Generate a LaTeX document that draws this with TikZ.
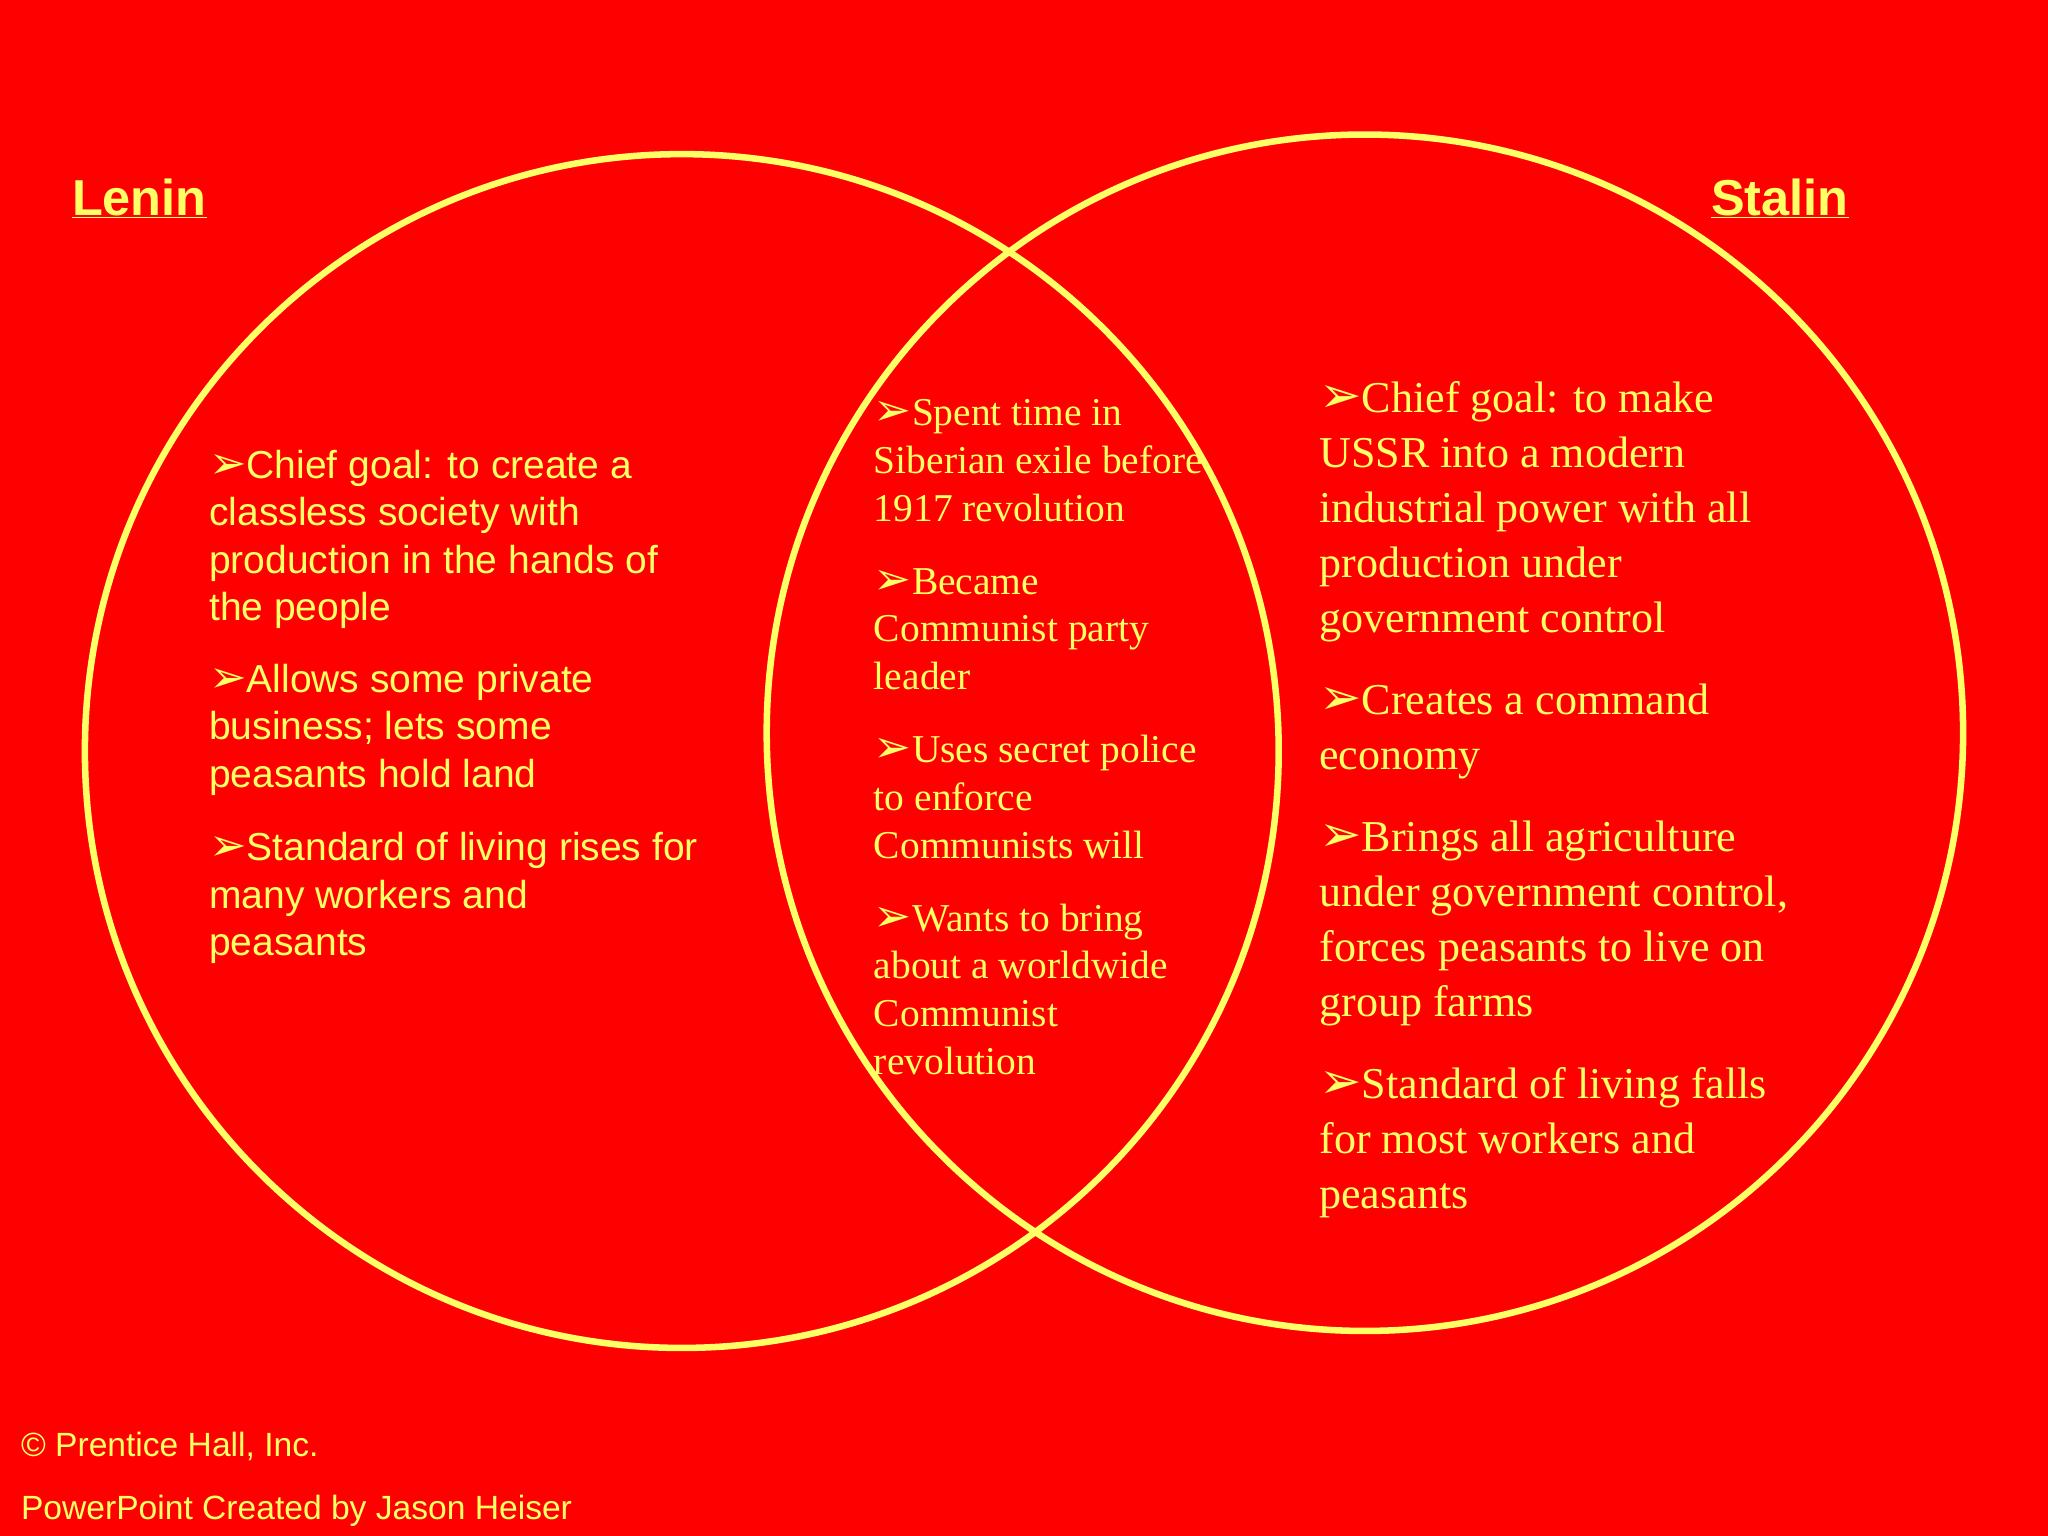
\documentclass[tikz,border=0pt]{standalone}
\usepackage{fontspec}
\setmainfont{Liberation Serif}
\setsansfont{Liberation Sans}
\newfontfamily\dejavu{DejaVu Sans}
\definecolor{bg}{RGB}{255,0,0}
\definecolor{yl}{RGB}{255,255,102}
\newcommand{\arr}{{\dejavu\scalebox{1.15}{➢}}}
\tikzset{ln/.style={anchor=base west,inner sep=0pt,text=yl},
 ring/.style={draw=yl,line width=0.25cm}}
\newcommand{\para}[5]{\foreach \t [count=\i from 0] in {#5}{\node[ln,font=#4] at (#1,#2+\i*#3) {\t};}}
\begin{document}
\begin{tikzpicture}[x=0.05cm,y=-0.05cm]
\fill[bg] (0,0) rectangle (1568,1176);
\useasboundingbox (0,0) rectangle (1568,1176);
\node[ring,circle,minimum size=914*0.05cm,inner sep=0pt] (L) at (522,575) {};
\node[ring,circle,minimum size=916*0.05cm,inner sep=0pt] (R) at (1045,561) {};
\node[ln,font=\sffamily\bfseries\fontsize{55}{62}\selectfont] (lenin) at (55,165) {\underline{Lenin}};
\node[ln,font=\sffamily\bfseries\fontsize{55}{62}\selectfont] (stalin) at (1310,165) {\underline{Stalin}};
\def\fl{\sffamily\fontsize{42.5}{48}\selectfont}
\para{160}{366}{36.4}{\fl}{\arr Chief goal: to create a, classless society with, production in the hands of, the people}
\para{160}{530}{36.4}{\fl}{\arr Allows some private, business; lets some, peasants hold land}
\para{160}{659}{36.4}{\fl}{\arr Standard of living rises for, many workers and, peasants}
\def\fm{\rmfamily\fontsize{43}{48}\selectfont}
\para{669}{326}{36.5}{\fm}{\arr Spent time in, Siberian exile before, 1917 revolution}
\para{669}{455}{36.5}{\fm}{\arr Became, Communist party, leader}
\para{669}{584}{36.5}{\fm}{\arr Uses secret police, to enforce, Communists will}
\para{669}{713}{36.5}{\fm}{\arr Wants to bring, about a worldwide, Communist, revolution}
\def\fr{\rmfamily\fontsize{48}{56}\selectfont}
\para{1010}{316}{42}{\fr}{\arr Chief goal: to make, USSR into a modern, industrial power with all, production under, government control}
\para{1010}{547}{42}{\fr}{\arr Creates a command, economy}
\para{1010}{652}{42}{\fr}{\arr Brings all agriculture, {under government control,}, forces peasants to live on, group farms}
\para{1010}{841}{42}{\fr}{\arr Standard of living falls, for most workers and, peasants}
\def\ff{\sffamily\fontsize{36.6}{42}\selectfont}
\node[ln,font=\ff] (c1) at (16,1115) {© Prentice Hall, Inc.};
\node[ln,font=\ff] (c2) at (16,1163) {PowerPoint Created by Jason Heiser};
\end{tikzpicture}
\end{document}
